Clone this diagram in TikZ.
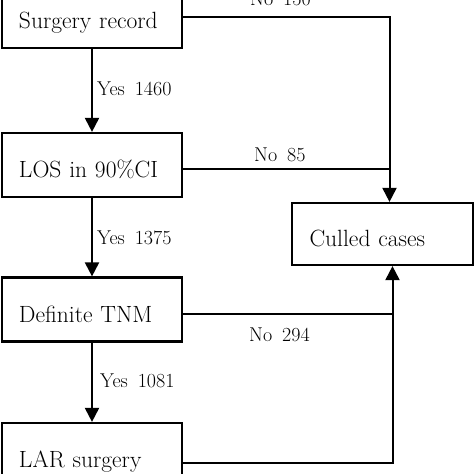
\documentclass[tikz,border=0pt]{standalone}
\usetikzlibrary{arrows.meta,calc}
\begin{document}
\begin{tikzpicture}[x=1pt,y=-1pt,
  box/.style={draw,line width=2.2pt,minimum width=180pt,minimum height=64pt,
    text width=146pt,align=left,inner xsep=17pt,inner ysep=0pt,
    text height=30pt,text depth=5pt,font=\fontsize{23.5}{27}\selectfont},
  lbl/.style={font=\fontsize{20}{24}\selectfont,inner sep=0pt,anchor=base west},
  conn/.style={line width=2pt},
  arr/.style={conn,-{Triangle[length=14pt,width=14pt]}}]
\useasboundingbox (0,0) rectangle (474,474);
\node[box] (sr) at (92,16) {Surgery record};
\node[box] (los) at (92,165) {LOS in 90\%CI};
\node[box] (dt) at (92,309.5) {Definite TNM};
\node[box] (lar) at (92,455) {LAR surgery};
\node[box,minimum width=181pt,minimum height=62pt] (cc) at (382.5,234) {Culled cases};
\coordinate (srr) at ($(sr.east)+(0,1)$);
\coordinate (losr) at ($(los.east)+(0,4)$);
\coordinate (dtr) at ($(dt.east)+(0,4.5)$);
\coordinate (larr) at ($(lar.east)+(0,8)$);
\coordinate (ctop) at ($(cc.north)+(7,0)$);
\coordinate (cbot) at ($(cc.south)+(10,0)$);
\draw[arr] (sr) -- (los);
\draw[arr] (los) -- (dt);
\draw[arr] (dt) -- (lar);
\draw[arr] (srr) -| (ctop);
\draw[conn] (losr) -- (losr -| ctop);
\draw[arr] (larr) -| (cbot);
\draw[conn] (dtr) -- (dtr -| cbot);
\node[lbl] (l1) at (250,5) {No\hspace{0.5em}150};
\node[lbl] (l2) at (254,161) {No\hspace{0.5em}85};
\node[lbl] (l3) at (249,341) {No\hspace{0.5em}294};
\node[lbl] (l4) at (97,95) {Yes\hspace{0.5em}1460};
\node[lbl] (l5) at (97,244) {Yes\hspace{0.5em}1375};
\node[lbl] (l6) at (100,387) {Yes\hspace{0.5em}1081};
\end{tikzpicture}
\end{document}
